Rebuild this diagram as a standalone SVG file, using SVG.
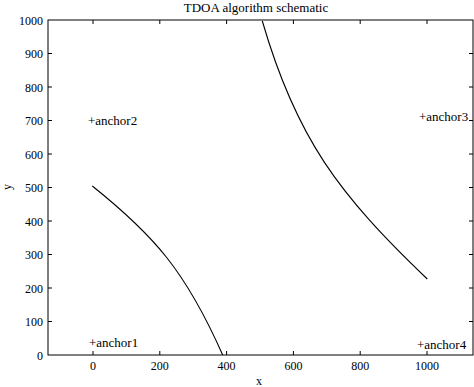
<svg xmlns="http://www.w3.org/2000/svg" width="474" height="387" viewBox="0 0 474 387" font-family="'Liberation Serif', 'Times New Roman', serif">
<style>
text{font-family:'Liberation Serif','Times New Roman',serif;font-size:12px;fill:#000}
.tk{stroke:#000;stroke-width:1;fill:none}
.cv{stroke:#000;stroke-width:1.1;fill:none}
.yl{text-anchor:end}
.xl{text-anchor:middle}
.an{font-size:13px}
</style>
<rect width="474" height="387" fill="#fff"/>
<g id="axes">
<rect x="48" y="20" width="425" height="335" class="tk"/>
<path class="tk" d="M93 355v-4M159.8 355v-4M226.6 355v-4M293.4 355v-4M360.2 355v-4M427 355v-4M93 20v4M159.8 20v4M226.6 20v4M293.4 20v4M360.2 20v4M427 20v4M48 321.5h4M48 288h4M48 254.5h4M48 221h4M48 187.5h4M48 154h4M48 120.5h4M48 87h4M48 53.5h4M473 321.5h-4M473 288h-4M473 254.5h-4M473 221h-4M473 187.5h-4M473 154h-4M473 120.5h-4M473 87h-4M473 53.5h-4"/>
<g class="yl">
<text x="43" y="359.5">0</text>
<text x="43" y="326">100</text>
<text x="43" y="292.5">200</text>
<text x="43" y="259">300</text>
<text x="43" y="225.5">400</text>
<text x="43" y="192">500</text>
<text x="43" y="158.5">600</text>
<text x="43" y="125">700</text>
<text x="43" y="91.5">800</text>
<text x="43" y="58">900</text>
<text x="43" y="24.5">1000</text>
</g>
<g class="xl">
<text x="93" y="370">0</text>
<text x="159.8" y="370">200</text>
<text x="226.6" y="370">400</text>
<text x="293.4" y="370">600</text>
<text x="360.2" y="370">800</text>
<text x="427" y="370">1000</text>
</g>
<text class="xl" x="259" y="385">x</text>
<text class="xl" transform="translate(11 187) rotate(-90)">y</text>
<text class="xl" x="256" y="12" style="font-size:13px">TDOA algorithm schematic</text>
</g>
<g id="curves">
<path class="cv" d="M92.3 186C154.3 235.6 185.7 271.4 222.7 355"/>
<path class="cv" d="M262.3 21C296.2 138.2 339.1 194.7 427.3 279"/>
</g>
<g id="anchor1"><text class="an" x="89" y="347">+anchor1</text></g>
<g id="anchor2"><text class="an" x="88" y="125">+anchor2</text></g>
<g id="anchor3"><text class="an" x="419" y="121">+anchor3</text></g>
<g id="anchor4"><text class="an" x="417" y="349">+anchor4</text></g>
</svg>
